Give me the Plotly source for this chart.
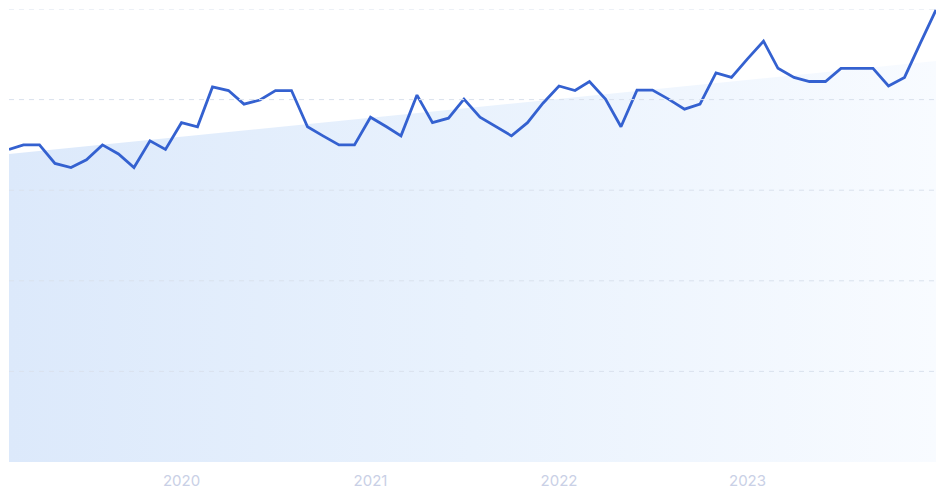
import pandas as pd
import plotly.graph_objects as go

# Monthly index values, Feb 2019 .. Jan 2024
values = [
    69.0, 70.0, 70.0, 65.9, 65.0, 66.7, 70.0, 68.0, 65.0, 70.9, 69.0,
    74.9, 74.0, 82.8, 82.0, 79.0, 79.9, 82.0, 82.0, 74.0, 72.0, 70.0, 70.0,
    76.1, 74.0, 72.0, 81.0, 74.9, 75.9, 80.1, 76.1, 74.0, 72.0, 74.9, 79.2,
    83.0, 82.0, 84.0, 80.1, 74.0, 82.1, 82.1, 80.1, 77.9, 79.0, 85.9, 84.9,
    89.0, 92.9, 86.9, 84.9, 84.0, 84.0, 86.9, 86.9, 86.9, 83.0, 84.9, 92.3,
    99.8,
]
start_month = "2019-02-01"
months = pd.date_range(start_month, periods=len(values), freq="MS")

# Trend band (shaded area) end values
trend_start = 68.0
trend_end = 88.5

tick_years = ["2020", "2021", "2022", "2023"]
tick_dates = [f"{y}-01-01" for y in tick_years]
grid_values = [20, 40, 60, 80, 100]

fig = go.Figure()

# Shaded trend area under a straight line
fig.add_trace(go.Scatter(
    x=[months[0], months[-1]],
    y=[trend_start, trend_end],
    mode="lines",
    line=dict(width=0),
    fill="tozeroy",
    fillgradient=dict(
        type="horizontal",
        colorscale=[[0, "#dce9fb"], [0.5, "#e9f2fd"], [1, "#f8fbff"]],
    ),
    hoverinfo="skip",
    showlegend=False,
))

# Main series
fig.add_trace(go.Scatter(
    x=months,
    y=values,
    mode="lines",
    line=dict(color="#3461d0", width=2.8),
    showlegend=False,
))

# dashed gridlines drawn over the shaded area
for v in grid_values:
    fig.add_hline(y=v, line=dict(color="#d9e1ed", width=1, dash="5px,5px"), layer="above")

fig.update_xaxes(
    range=[months[0], months[-1]],
    tickvals=tick_dates,
    ticktext=tick_years,
    showgrid=False,
    zeroline=False,
    showline=False,
    ticks="",
    ticklabelstandoff=8,
    tickfont=dict(family="Inter", size=15, color="#c9d0e6"),
)
fig.update_yaxes(
    range=[0, 100],
    showticklabels=False,
    showgrid=False,
    zeroline=False,
    showline=False,
)

# page body adds an 8px offset, so the figure is a bit smaller than the window
fig.update_layout(
    width=938,
    height=485,
    margin=dict(l=1, r=10, t=1, b=31),
    plot_bgcolor="white",
    paper_bgcolor="white",
)

fig.write_html("out.html")
